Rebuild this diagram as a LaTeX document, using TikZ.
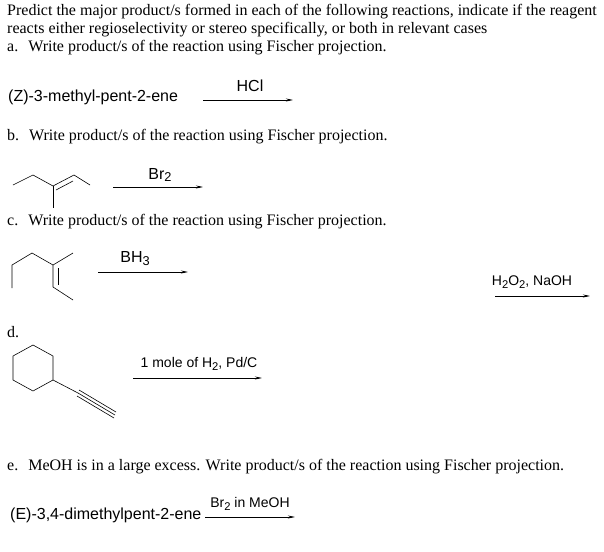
\documentclass[tikz,border=0pt]{standalone}
\usepackage{fontspec}
\setmainfont{Liberation Serif}
\newfontfamily\sans{Liberation Sans}
\usetikzlibrary{arrows.meta}
\newcommand{\lsub}[1]{\raisebox{-0.35ex}{\fontsize{0.8em}{1em}\selectfont #1}}
\begin{document}
\begin{tikzpicture}[x=1pt,y=-1pt,
  txt/.style={anchor=west,inner sep=0pt,font=\fontsize{16}{18}\selectfont},
  stxt/.style={inner sep=0pt,font=\sans\fontsize{16}{18}\selectfont},
  rtxt/.style={inner sep=0pt,font=\sans\fontsize{14}{16}\selectfont},
  rxn/.style={-{Stealth[length=7pt,width=3pt]},line width=0.7pt},
  bond/.style={line width=0.6pt}]
\useasboundingbox (0,0) rectangle (604,551);
\node[txt] (h1) at (7,12) {Predict the major product/s formed in each of the following reactions, indicate if the reagent};
\node[txt] (h2) at (7,30) {reacts either regioselectivity or stereo specifically, or both in relevant cases};
\node[txt] (h3) at (7,48) {a.\hspace{10pt}Write product/s of the reaction using Fischer projection.};
% a
\node[stxt,anchor=west] (za) at (8,97) {(Z)-3-methyl-pent-2-ene};
\coordinate (a1) at (203,100); \coordinate (a2) at (293,100);
\draw[rxn] (a1) -- (a2);
\node[stxt] (hcl) at (250,86) {HCl};
% b
\node[txt] (bl) at (7,137) {b.\hspace{10pt}Write product/s of the reaction using Fischer projection.};
\draw[bond] (13,185) -- (33,175) -- (53,186) -- (74,175) -- (90,185);
\draw[bond] (53,186) -- (53,208);
\draw[bond] (56,190) -- (73,181);
\coordinate (b1) at (113,187); \coordinate (b2) at (203,187);
\draw[rxn] (b1) -- (b2);
\node[stxt] (br) at (160,175) {Br\lsub{2}};
% c
\node[txt] (cl) at (7,222) {c.\hspace{10pt}Write product/s of the reaction using Fischer projection.};
\draw[bond] (12,288) -- (12,265) -- (32,253) -- (53,265) -- (73,253);
\draw[bond] (53,265) -- (53,287) -- (73,300);
\draw[bond] (58,268) -- (58,285);
\coordinate (c1) at (98,272); \coordinate (c2) at (188,272);
\draw[rxn] (c1) -- (c2);
\node[stxt] (bh) at (135,259) {BH\lsub{3}};
\coordinate (c3) at (495,296); \coordinate (c4) at (590,296);
\draw[rxn] (c3) -- (c4);
\node[rtxt] (hp) at (532,282) {H\lsub{2}O\lsub{2}, NaOH};
% d
\node[txt] (dl) at (7,332) {d.};
\draw[bond] (13,356) -- (33,345) -- (53,356) -- (53,380) -- (33,391) -- (13,380) -- cycle;
\draw[bond] (53,380) -- (78,393);
\draw[bond] (78,393) -- (115,415);
\draw[bond] (79,390) -- (116,412);
\draw[bond] (77,396) -- (114,418);
\coordinate (d1) at (133,378); \coordinate (d2) at (262,378);
\draw[rxn] (d1) -- (d2);
\node[rtxt] (h2pd) at (199,364) {1 mole of H\lsub{2}, Pd/C};
% e
\node[txt] (el) at (7,467) {e.\hspace{10pt}MeOH is in a large excess. Write product/s of the reaction using Fischer projection.};
\node[stxt,anchor=west] (ee) at (10,515) {(E)-3,4-dimethylpent-2-ene};
\coordinate (e1) at (205,517); \coordinate (e2) at (295,517);
\draw[rxn] (e1) -- (e2);
\node[rtxt] (brm) at (250,504) {Br\lsub{2} in MeOH};
\end{tikzpicture}
\end{document}
